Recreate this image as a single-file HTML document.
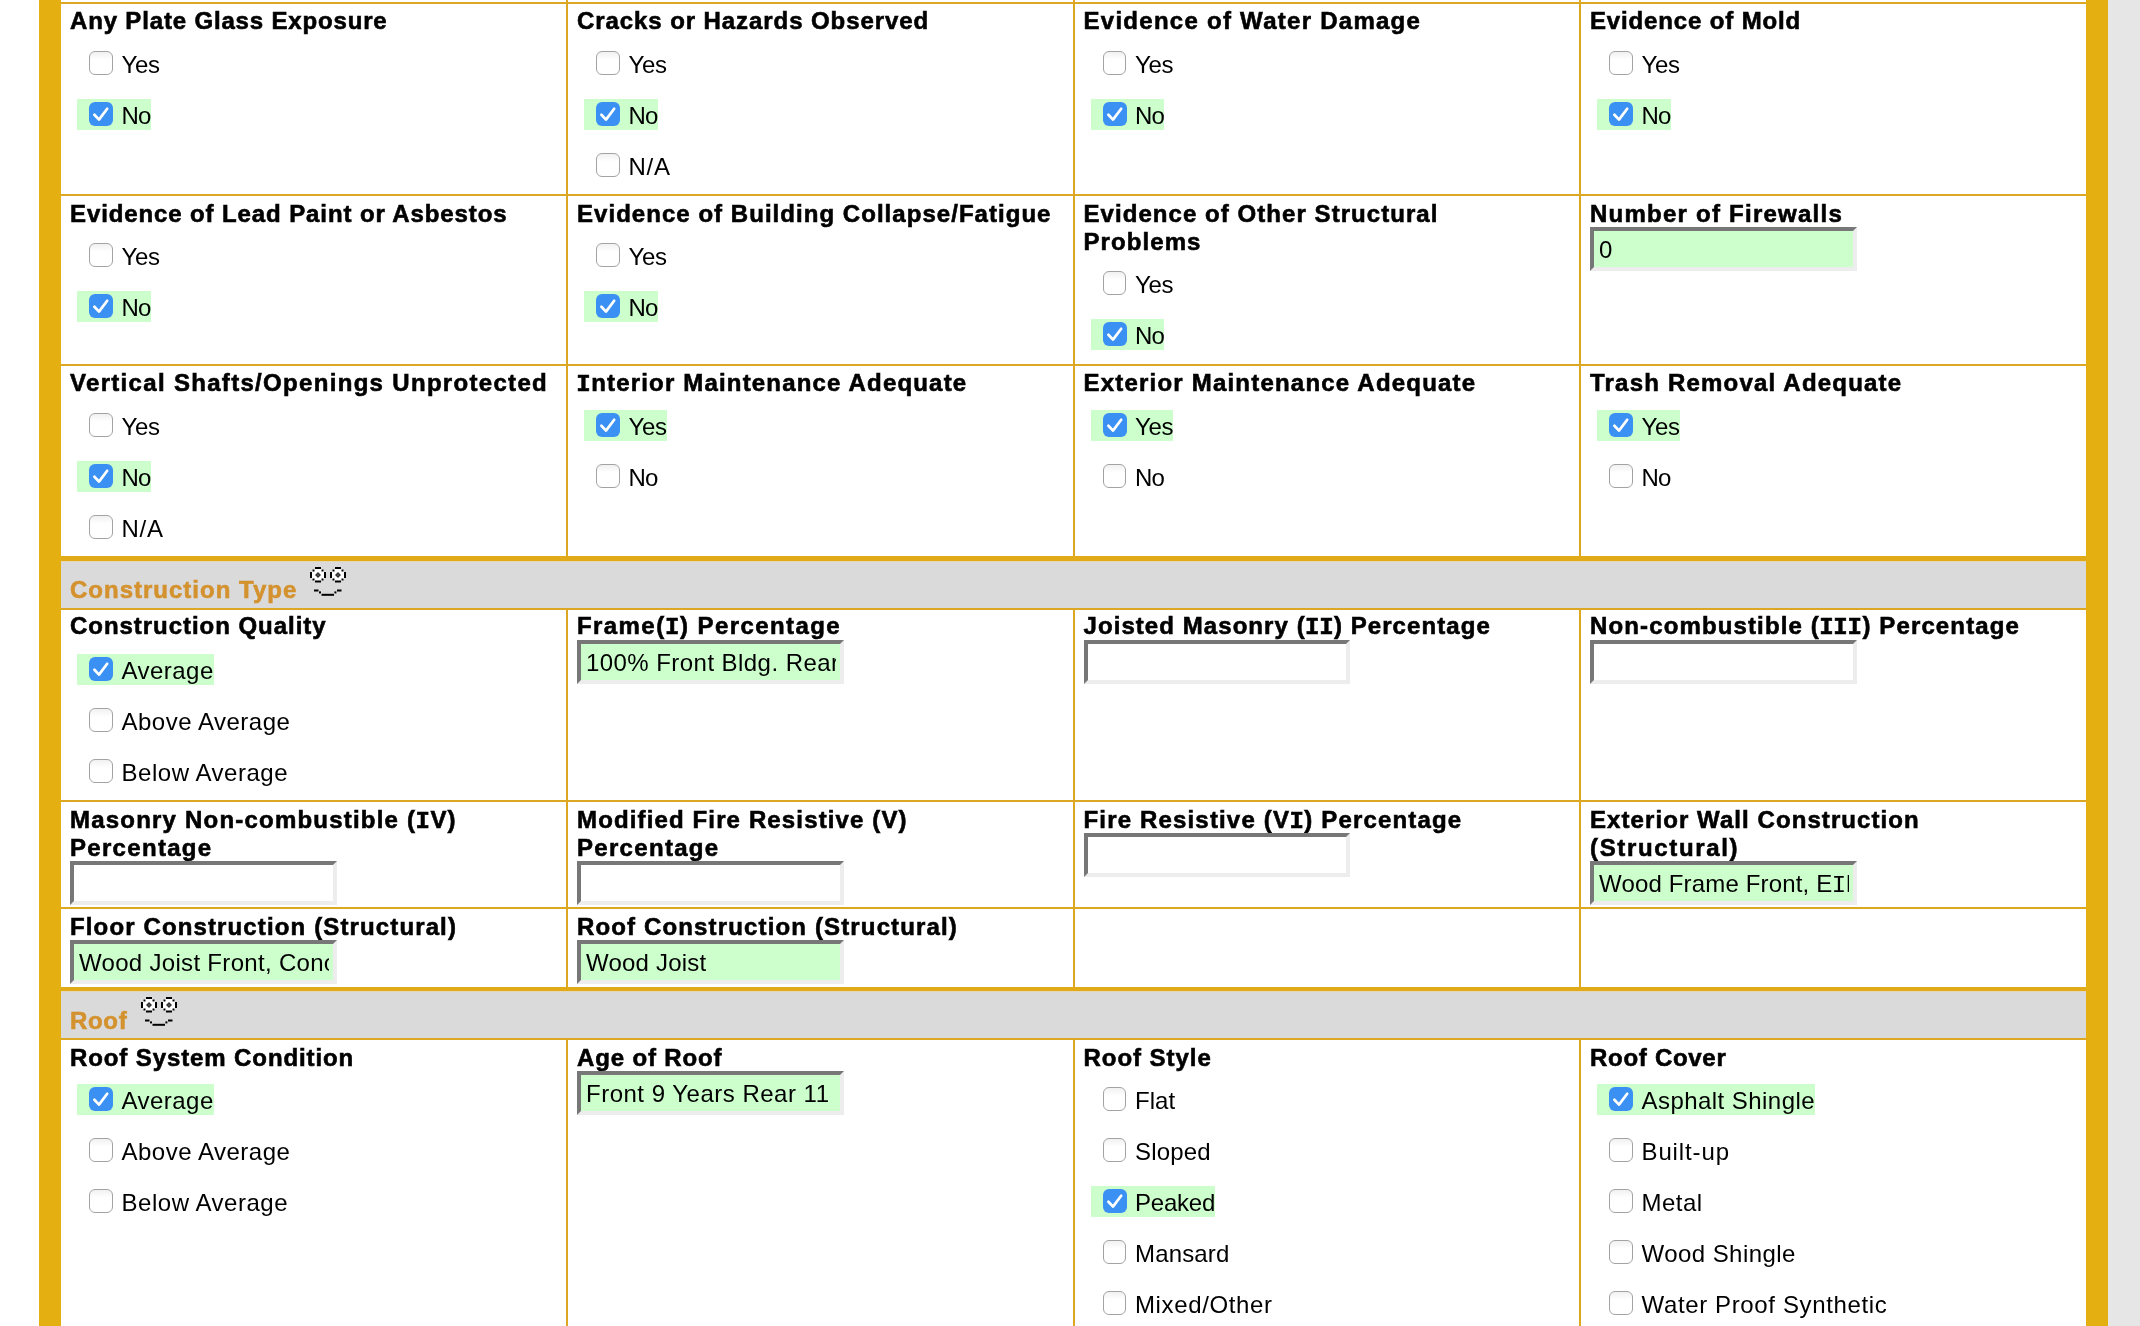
<!DOCTYPE html><html><head><meta charset="utf-8"><title>Inspection Form</title><style>
html,body{margin:0;padding:0}
body{width:2140px;height:1326px;overflow:hidden;position:relative;background:#fff;font-family:"Liberation Sans",sans-serif;color:#000}
.t{position:absolute;white-space:nowrap}
.mi{font-family:"Liberation Mono",monospace;margin:0 -0.7px}
.r{position:absolute}
.opt{position:absolute;height:31px;line-height:31px;font-size:24px;white-space:nowrap;padding-left:44.5px}
.cb{position:absolute;left:12px;top:2.9px;width:21.6px;height:21.6px;border:1.2px solid #a3a3a3;border-radius:6px;background:linear-gradient(#f1f1f1,#fff 35%)}
.cbc{position:absolute;left:12px;top:2.9px;width:24px;height:24px;border-radius:6px;background:#3b90f4}
.cbc svg{position:absolute;left:0;top:0}
.inp{position:absolute;width:258.6px;height:35.6px;border-style:solid;border-width:4px;border-color:#777 #ededed #ededed #777}
.inpt{position:absolute;width:258.5px;height:43px;overflow:hidden}

</style></head><body><div id="root" style="position:absolute;left:0;top:0;width:2140px;height:1326px;will-change:transform">
<div class="r" style="left:2108px;top:0;width:32px;height:1326px;background:#e6e6e6"></div>
<div class="r" style="left:39px;top:0;width:22px;height:1326px;background:#e4af10"></div>
<div class="r" style="left:2086px;top:0;width:22px;height:1326px;background:#e4af10"></div>
<div class="r" style="left:61px;top:562px;width:2025px;height:46px;background:#dadada"></div>
<div class="r" style="left:61px;top:992px;width:2025px;height:46px;background:#dadada"></div>
<div class="r" style="left:61px;top:2px;width:2025px;height:2px;background:#dca824"></div>
<div class="r" style="left:61px;top:194px;width:2025px;height:2px;background:#dca824"></div>
<div class="r" style="left:61px;top:364px;width:2025px;height:2px;background:#dca824"></div>
<div class="r" style="left:61px;top:608px;width:2025px;height:2px;background:#dca824"></div>
<div class="r" style="left:61px;top:800px;width:2025px;height:2px;background:#dca824"></div>
<div class="r" style="left:61px;top:907px;width:2025px;height:2px;background:#dca824"></div>
<div class="r" style="left:61px;top:1038px;width:2025px;height:2px;background:#dca824"></div>
<div class="r" style="left:61px;top:556px;width:2025px;height:5px;background:#e0aa18"></div>
<div class="r" style="left:61px;top:561px;width:2025px;height:1px;background:#e6d8b6"></div>
<div class="r" style="left:61px;top:987px;width:2025px;height:4px;background:#e0aa18"></div>
<div class="r" style="left:61px;top:991px;width:2025px;height:1px;background:#e6d8b6"></div>
<div class="r" style="left:566px;top:0px;width:2px;height:556px;background:#dca824"></div>
<div class="r" style="left:566px;top:608px;width:2px;height:379px;background:#dca824"></div>
<div class="r" style="left:566px;top:1038px;width:2px;height:288px;background:#dca824"></div>
<div class="r" style="left:1072.5px;top:0px;width:2px;height:556px;background:#dca824"></div>
<div class="r" style="left:1072.5px;top:608px;width:2px;height:379px;background:#dca824"></div>
<div class="r" style="left:1072.5px;top:1038px;width:2px;height:288px;background:#dca824"></div>
<div class="r" style="left:1579px;top:0px;width:2px;height:556px;background:#dca824"></div>
<div class="r" style="left:1579px;top:608px;width:2px;height:379px;background:#dca824"></div>
<div class="r" style="left:1579px;top:1038px;width:2px;height:288px;background:#dca824"></div>
<div class="t" id="a0l0" style="left:70px;top:8.98px;font-size:24px;line-height:24px;font-weight:bold;color:#000;letter-spacing:0.835px;-webkit-text-stroke:0.6px #000">Any Plate Glass Exposure</div>
<div class="opt" style="left:77px;top:48.10px;"><div class="cb"></div><span id="a0o0" style="letter-spacing:-0.346px;position:relative;top:0.8px">Yes</span></div>
<div class="opt" style="left:77px;top:99.10px;background:#ccffcc;"><div class="cbc"><svg width="24" height="24" viewBox="0 0 24 24"><path d="M5.4 12.8 L10 17.6 L18.2 6.8" fill="none" stroke="#fff" stroke-width="2.7" stroke-linecap="round" stroke-linejoin="round"/></svg></div><span id="a0o1" style="letter-spacing:-0.714px;position:relative;top:0.8px">No</span></div>
<div class="t" id="a1l0" style="left:577px;top:8.98px;font-size:24px;line-height:24px;font-weight:bold;color:#000;letter-spacing:0.920px;-webkit-text-stroke:0.6px #000">Cracks or Hazards Observed</div>
<div class="opt" style="left:584px;top:48.10px;"><div class="cb"></div><span id="a1o0" style="letter-spacing:-0.346px;position:relative;top:0.8px">Yes</span></div>
<div class="opt" style="left:584px;top:99.10px;background:#ccffcc;"><div class="cbc"><svg width="24" height="24" viewBox="0 0 24 24"><path d="M5.4 12.8 L10 17.6 L18.2 6.8" fill="none" stroke="#fff" stroke-width="2.7" stroke-linecap="round" stroke-linejoin="round"/></svg></div><span id="a1o1" style="letter-spacing:-0.714px;position:relative;top:0.8px">No</span></div>
<div class="opt" style="left:584px;top:150.10px;"><div class="cb"></div><span id="a1o2" style="letter-spacing:0.700px;position:relative;top:0.8px">N/A</span></div>
<div class="t" id="a2l0" style="left:1083.5px;top:8.98px;font-size:24px;line-height:24px;font-weight:bold;color:#000;letter-spacing:1.269px;-webkit-text-stroke:0.6px #000">Evidence of Water Damage</div>
<div class="opt" style="left:1090.5px;top:48.10px;"><div class="cb"></div><span id="a2o0" style="letter-spacing:-0.346px;position:relative;top:0.8px">Yes</span></div>
<div class="opt" style="left:1090.5px;top:99.10px;background:#ccffcc;"><div class="cbc"><svg width="24" height="24" viewBox="0 0 24 24"><path d="M5.4 12.8 L10 17.6 L18.2 6.8" fill="none" stroke="#fff" stroke-width="2.7" stroke-linecap="round" stroke-linejoin="round"/></svg></div><span id="a2o1" style="letter-spacing:-0.714px;position:relative;top:0.8px">No</span></div>
<div class="t" id="a3l0" style="left:1590px;top:8.98px;font-size:24px;line-height:24px;font-weight:bold;color:#000;letter-spacing:0.855px;-webkit-text-stroke:0.6px #000">Evidence of Mold</div>
<div class="opt" style="left:1597px;top:48.10px;"><div class="cb"></div><span id="a3o0" style="letter-spacing:-0.346px;position:relative;top:0.8px">Yes</span></div>
<div class="opt" style="left:1597px;top:99.10px;background:#ccffcc;"><div class="cbc"><svg width="24" height="24" viewBox="0 0 24 24"><path d="M5.4 12.8 L10 17.6 L18.2 6.8" fill="none" stroke="#fff" stroke-width="2.7" stroke-linecap="round" stroke-linejoin="round"/></svg></div><span id="a3o1" style="letter-spacing:-0.714px;position:relative;top:0.8px">No</span></div>
<div class="t" id="b0l0" style="left:70px;top:201.98px;font-size:24px;line-height:24px;font-weight:bold;color:#000;letter-spacing:0.891px;-webkit-text-stroke:0.6px #000">Evidence of Lead Paint or Asbestos</div>
<div class="opt" style="left:77px;top:240.10px;"><div class="cb"></div><span id="b0o0" style="letter-spacing:-0.346px;position:relative;top:0.8px">Yes</span></div>
<div class="opt" style="left:77px;top:291.10px;background:#ccffcc;"><div class="cbc"><svg width="24" height="24" viewBox="0 0 24 24"><path d="M5.4 12.8 L10 17.6 L18.2 6.8" fill="none" stroke="#fff" stroke-width="2.7" stroke-linecap="round" stroke-linejoin="round"/></svg></div><span id="b0o1" style="letter-spacing:-0.714px;position:relative;top:0.8px">No</span></div>
<div class="t" id="b1l0" style="left:577px;top:201.98px;font-size:24px;line-height:24px;font-weight:bold;color:#000;letter-spacing:1.039px;-webkit-text-stroke:0.6px #000">Evidence of Building Collapse/Fatigue</div>
<div class="opt" style="left:584px;top:240.10px;"><div class="cb"></div><span id="b1o0" style="letter-spacing:-0.346px;position:relative;top:0.8px">Yes</span></div>
<div class="opt" style="left:584px;top:291.10px;background:#ccffcc;"><div class="cbc"><svg width="24" height="24" viewBox="0 0 24 24"><path d="M5.4 12.8 L10 17.6 L18.2 6.8" fill="none" stroke="#fff" stroke-width="2.7" stroke-linecap="round" stroke-linejoin="round"/></svg></div><span id="b1o1" style="letter-spacing:-0.714px;position:relative;top:0.8px">No</span></div>
<div class="t" id="b2l0" style="left:1083.5px;top:201.98px;font-size:24px;line-height:24px;font-weight:bold;color:#000;letter-spacing:1.057px;-webkit-text-stroke:0.6px #000">Evidence of Other Structural</div>
<div class="t" id="b2l1" style="left:1083.5px;top:229.98px;font-size:24px;line-height:24px;font-weight:bold;color:#000;letter-spacing:1.078px;-webkit-text-stroke:0.6px #000">Problems</div>
<div class="opt" style="left:1090.5px;top:268.10px;"><div class="cb"></div><span id="b2o0" style="letter-spacing:-0.346px;position:relative;top:0.8px">Yes</span></div>
<div class="opt" style="left:1090.5px;top:319.10px;background:#ccffcc;"><div class="cbc"><svg width="24" height="24" viewBox="0 0 24 24"><path d="M5.4 12.8 L10 17.6 L18.2 6.8" fill="none" stroke="#fff" stroke-width="2.7" stroke-linecap="round" stroke-linejoin="round"/></svg></div><span id="b2o1" style="letter-spacing:-0.714px;position:relative;top:0.8px">No</span></div>
<div class="t" id="b3l0" style="left:1590px;top:201.98px;font-size:24px;line-height:24px;font-weight:bold;color:#000;letter-spacing:1.244px;-webkit-text-stroke:0.6px #000">Number of Firewalls</div>
<div class="inp" style="left:1590px;top:227.40px;background:#ccffcc"></div>
<div class="inpt" style="left:1590px;top:227.40px;"><div class="t" id="b3i" style="left:9px;top:10.68px;font-size:24px;line-height:24px;letter-spacing:0.450px">0</div></div>
<div class="t" id="c0l0" style="left:70px;top:370.98px;font-size:24px;line-height:24px;font-weight:bold;color:#000;letter-spacing:1.314px;-webkit-text-stroke:0.6px #000">Vertical Shafts/Openings Unprotected</div>
<div class="opt" style="left:77px;top:410.10px;"><div class="cb"></div><span id="c0o0" style="letter-spacing:-0.346px;position:relative;top:0.8px">Yes</span></div>
<div class="opt" style="left:77px;top:461.10px;background:#ccffcc;"><div class="cbc"><svg width="24" height="24" viewBox="0 0 24 24"><path d="M5.4 12.8 L10 17.6 L18.2 6.8" fill="none" stroke="#fff" stroke-width="2.7" stroke-linecap="round" stroke-linejoin="round"/></svg></div><span id="c0o1" style="letter-spacing:-0.714px;position:relative;top:0.8px">No</span></div>
<div class="opt" style="left:77px;top:512.10px;"><div class="cb"></div><span id="c0o2" style="letter-spacing:0.700px;position:relative;top:0.8px">N/A</span></div>
<div class="t" id="c1l0" style="left:577px;top:370.98px;font-size:24px;line-height:24px;font-weight:bold;color:#000;letter-spacing:1.176px;-webkit-text-stroke:0.6px #000"><span class="mi">I</span>nterior Maintenance Adequate</div>
<div class="opt" style="left:584px;top:410.10px;background:#ccffcc;"><div class="cbc"><svg width="24" height="24" viewBox="0 0 24 24"><path d="M5.4 12.8 L10 17.6 L18.2 6.8" fill="none" stroke="#fff" stroke-width="2.7" stroke-linecap="round" stroke-linejoin="round"/></svg></div><span id="c1o0" style="letter-spacing:-0.346px;position:relative;top:0.8px">Yes</span></div>
<div class="opt" style="left:584px;top:461.10px;"><div class="cb"></div><span id="c1o1" style="letter-spacing:-0.714px;position:relative;top:0.8px">No</span></div>
<div class="t" id="c2l0" style="left:1083.5px;top:370.98px;font-size:24px;line-height:24px;font-weight:bold;color:#000;letter-spacing:1.207px;-webkit-text-stroke:0.6px #000">Exterior Maintenance Adequate</div>
<div class="opt" style="left:1090.5px;top:410.10px;background:#ccffcc;"><div class="cbc"><svg width="24" height="24" viewBox="0 0 24 24"><path d="M5.4 12.8 L10 17.6 L18.2 6.8" fill="none" stroke="#fff" stroke-width="2.7" stroke-linecap="round" stroke-linejoin="round"/></svg></div><span id="c2o0" style="letter-spacing:-0.346px;position:relative;top:0.8px">Yes</span></div>
<div class="opt" style="left:1090.5px;top:461.10px;"><div class="cb"></div><span id="c2o1" style="letter-spacing:-0.714px;position:relative;top:0.8px">No</span></div>
<div class="t" id="c3l0" style="left:1590px;top:370.98px;font-size:24px;line-height:24px;font-weight:bold;color:#000;letter-spacing:1.202px;-webkit-text-stroke:0.6px #000">Trash Removal Adequate</div>
<div class="opt" style="left:1597px;top:410.10px;background:#ccffcc;"><div class="cbc"><svg width="24" height="24" viewBox="0 0 24 24"><path d="M5.4 12.8 L10 17.6 L18.2 6.8" fill="none" stroke="#fff" stroke-width="2.7" stroke-linecap="round" stroke-linejoin="round"/></svg></div><span id="c3o0" style="letter-spacing:-0.346px;position:relative;top:0.8px">Yes</span></div>
<div class="opt" style="left:1597px;top:461.10px;"><div class="cb"></div><span id="c3o1" style="letter-spacing:-0.714px;position:relative;top:0.8px">No</span></div>
<div class="t" id="h1" style="left:70px;top:577.68px;font-size:24px;line-height:24px;font-weight:bold;color:#d4922f;letter-spacing:1.004px;-webkit-text-stroke:0.6px #d4922f">Construction Type</div>
<div class="r" style="left:309px;top:566px"><svg width="38" height="32" viewBox="0 0 38 32" style="display:block"><polygon points="3,5 5,3 13,3 15,5 15,13 13,14.8 5,14.8 3,13" fill="#fff"/><rect x="6" y="1" width="6" height="2" fill="#000"/><rect x="6" y="14.5" width="6" height="2" fill="#000"/><rect x="1" y="6" width="2" height="6" fill="#000"/><rect x="15" y="6" width="2" height="6" fill="#000"/><rect x="3.5" y="3.5" width="2" height="2" fill="#000"/><rect x="12.5" y="3.5" width="2" height="2" fill="#000"/><rect x="3.5" y="12.5" width="2" height="2" fill="#000"/><rect x="12.5" y="12.5" width="2" height="2" fill="#000"/><rect x="6.5" y="8" width="5" height="2" fill="#333"/><rect x="8" y="6.5" width="2" height="5" fill="#333"/><rect x="7.3" y="7.3" width="3.4" height="3.4" fill="#333"/><rect x="8.3" y="8.3" width="1.4" height="1.4" fill="#666"/><polygon points="23,5 25,3 33,3 35,5 35,13 33,14.8 25,14.8 23,13" fill="#fff"/><rect x="26" y="1" width="6" height="2" fill="#000"/><rect x="26" y="14.5" width="6" height="2" fill="#000"/><rect x="21" y="6" width="2" height="6" fill="#000"/><rect x="35" y="6" width="2" height="6" fill="#000"/><rect x="23.5" y="3.5" width="2" height="2" fill="#000"/><rect x="32.5" y="3.5" width="2" height="2" fill="#000"/><rect x="23.5" y="12.5" width="2" height="2" fill="#000"/><rect x="32.5" y="12.5" width="2" height="2" fill="#000"/><rect x="26.5" y="8" width="5" height="2" fill="#333"/><rect x="28" y="6.5" width="2" height="5" fill="#333"/><rect x="27.3" y="7.3" width="3.4" height="3.4" fill="#333"/><rect x="28.3" y="8.3" width="1.4" height="1.4" fill="#666"/><rect x="5" y="23.5" width="4.5" height="2" fill="#000"/><rect x="10" y="25.4" width="2" height="2" fill="#000"/><rect x="12.5" y="27.8" width="12.5" height="2" fill="#000"/><rect x="25.4" y="25.4" width="2" height="2" fill="#000"/><rect x="28" y="23.5" width="4.5" height="2" fill="#000"/></svg></div>
<div class="t" id="d0l0" style="left:70px;top:613.98px;font-size:24px;line-height:24px;font-weight:bold;color:#000;letter-spacing:0.961px;-webkit-text-stroke:0.6px #000">Construction Quality</div>
<div class="opt" style="left:77px;top:654.10px;background:#ccffcc;"><div class="cbc"><svg width="24" height="24" viewBox="0 0 24 24"><path d="M5.4 12.8 L10 17.6 L18.2 6.8" fill="none" stroke="#fff" stroke-width="2.7" stroke-linecap="round" stroke-linejoin="round"/></svg></div><span id="d0o0" style="letter-spacing:0.472px;position:relative;top:0.8px">Average</span></div>
<div class="opt" style="left:77px;top:705.10px;"><div class="cb"></div><span id="d0o1" style="letter-spacing:0.506px;position:relative;top:0.8px">Above Average</span></div>
<div class="opt" style="left:77px;top:756.10px;"><div class="cb"></div><span id="d0o2" style="letter-spacing:0.536px;position:relative;top:0.8px">Below Average</span></div>
<div class="t" id="d1l0" style="left:577px;top:613.98px;font-size:24px;line-height:24px;font-weight:bold;color:#000;letter-spacing:1.420px;-webkit-text-stroke:0.6px #000">Frame(<span class="mi">I</span>) Percentage</div>
<div class="inp" style="left:577px;top:640.00px;background:#ccffcc"></div>
<div class="inpt" style="left:577px;top:640.00px;"><div class="t" id="d1i" style="left:9px;top:10.68px;font-size:24px;line-height:24px;letter-spacing:0.443px"><span id="d1ip">100% Front Bldg. Rea</span>r</div></div>
<div class="t" id="d2l0" style="left:1083.5px;top:613.98px;font-size:24px;line-height:24px;font-weight:bold;color:#000;letter-spacing:1.068px;-webkit-text-stroke:0.6px #000">Joisted Masonry (<span class="mi">I</span><span class="mi">I</span>) Percentage</div>
<div class="inp" style="left:1083.5px;top:640.00px;background:#fff"></div>
<div class="t" id="d3l0" style="left:1590px;top:613.98px;font-size:24px;line-height:24px;font-weight:bold;color:#000;letter-spacing:1.130px;-webkit-text-stroke:0.6px #000">Non-combustible (<span class="mi">I</span><span class="mi">I</span><span class="mi">I</span>) Percentage</div>
<div class="inp" style="left:1590px;top:640.00px;background:#fff"></div>
<div class="t" id="e0l0" style="left:70px;top:807.98px;font-size:24px;line-height:24px;font-weight:bold;color:#000;letter-spacing:1.205px;-webkit-text-stroke:0.6px #000">Masonry Non-combustible (<span class="mi">I</span>V)</div>
<div class="t" id="e0l1" style="left:70px;top:835.98px;font-size:24px;line-height:24px;font-weight:bold;color:#000;letter-spacing:1.308px;-webkit-text-stroke:0.6px #000">Percentage</div>
<div class="inp" style="left:70px;top:861.00px;background:#fff"></div>
<div class="t" id="e1l0" style="left:577px;top:807.98px;font-size:24px;line-height:24px;font-weight:bold;color:#000;letter-spacing:1.136px;-webkit-text-stroke:0.6px #000">Modified Fire Resistive (V)</div>
<div class="t" id="e1l1" style="left:577px;top:835.98px;font-size:24px;line-height:24px;font-weight:bold;color:#000;letter-spacing:1.308px;-webkit-text-stroke:0.6px #000">Percentage</div>
<div class="inp" style="left:577px;top:861.00px;background:#fff"></div>
<div class="t" id="e2l0" style="left:1083.5px;top:807.98px;font-size:24px;line-height:24px;font-weight:bold;color:#000;letter-spacing:1.165px;-webkit-text-stroke:0.6px #000">Fire Resistive (V<span class="mi">I</span>) Percentage</div>
<div class="inp" style="left:1083.5px;top:833.10px;background:#fff"></div>
<div class="t" id="e3l0" style="left:1590px;top:807.98px;font-size:24px;line-height:24px;font-weight:bold;color:#000;letter-spacing:1.076px;-webkit-text-stroke:0.6px #000">Exterior Wall Construction</div>
<div class="t" id="e3l1" style="left:1590px;top:835.98px;font-size:24px;line-height:24px;font-weight:bold;color:#000;letter-spacing:1.651px;-webkit-text-stroke:0.6px #000">(Structural)</div>
<div class="inp" style="left:1590px;top:861.00px;background:#ccffcc"></div>
<div class="inpt" style="left:1590px;top:861.00px;"><div class="t" id="e3i" style="left:9px;top:10.68px;font-size:24px;line-height:24px;letter-spacing:0.164px"><span id="e3ip">Wood Frame Front, E<span class="mi">I</span></span>FS</div></div>
<div class="t" id="f0l0" style="left:70px;top:914.98px;font-size:24px;line-height:24px;font-weight:bold;color:#000;letter-spacing:1.131px;-webkit-text-stroke:0.6px #000">Floor Construction (Structural)</div>
<div class="inp" style="left:70px;top:940.30px;background:#ccffcc"></div>
<div class="inpt" style="left:70px;top:940.30px;"><div class="t" id="f0i" style="left:9px;top:10.68px;font-size:24px;line-height:24px;letter-spacing:0.310px"><span id="f0ip">Wood Joist Front, Con</span>crete</div></div>
<div class="t" id="f1l0" style="left:577px;top:914.98px;font-size:24px;line-height:24px;font-weight:bold;color:#000;letter-spacing:1.145px;-webkit-text-stroke:0.6px #000">Roof Construction (Structural)</div>
<div class="inp" style="left:577px;top:940.30px;background:#ccffcc"></div>
<div class="inpt" style="left:577px;top:940.30px;"><div class="t" id="f1i" style="left:9px;top:10.68px;font-size:24px;line-height:24px;letter-spacing:0.200px">Wood Joist</div></div>
<div class="t" id="h2" style="left:70px;top:1008.68px;font-size:24px;line-height:24px;font-weight:bold;color:#d4922f;letter-spacing:0.665px;-webkit-text-stroke:0.6px #d4922f">Roof</div>
<div class="r" style="left:140px;top:996px"><svg width="38" height="32" viewBox="0 0 38 32" style="display:block"><polygon points="3,5 5,3 13,3 15,5 15,13 13,14.8 5,14.8 3,13" fill="#fff"/><rect x="6" y="1" width="6" height="2" fill="#000"/><rect x="6" y="14.5" width="6" height="2" fill="#000"/><rect x="1" y="6" width="2" height="6" fill="#000"/><rect x="15" y="6" width="2" height="6" fill="#000"/><rect x="3.5" y="3.5" width="2" height="2" fill="#000"/><rect x="12.5" y="3.5" width="2" height="2" fill="#000"/><rect x="3.5" y="12.5" width="2" height="2" fill="#000"/><rect x="12.5" y="12.5" width="2" height="2" fill="#000"/><rect x="6.5" y="8" width="5" height="2" fill="#333"/><rect x="8" y="6.5" width="2" height="5" fill="#333"/><rect x="7.3" y="7.3" width="3.4" height="3.4" fill="#333"/><rect x="8.3" y="8.3" width="1.4" height="1.4" fill="#666"/><polygon points="23,5 25,3 33,3 35,5 35,13 33,14.8 25,14.8 23,13" fill="#fff"/><rect x="26" y="1" width="6" height="2" fill="#000"/><rect x="26" y="14.5" width="6" height="2" fill="#000"/><rect x="21" y="6" width="2" height="6" fill="#000"/><rect x="35" y="6" width="2" height="6" fill="#000"/><rect x="23.5" y="3.5" width="2" height="2" fill="#000"/><rect x="32.5" y="3.5" width="2" height="2" fill="#000"/><rect x="23.5" y="12.5" width="2" height="2" fill="#000"/><rect x="32.5" y="12.5" width="2" height="2" fill="#000"/><rect x="26.5" y="8" width="5" height="2" fill="#333"/><rect x="28" y="6.5" width="2" height="5" fill="#333"/><rect x="27.3" y="7.3" width="3.4" height="3.4" fill="#333"/><rect x="28.3" y="8.3" width="1.4" height="1.4" fill="#666"/><rect x="5" y="23.5" width="4.5" height="2" fill="#000"/><rect x="10" y="25.4" width="2" height="2" fill="#000"/><rect x="12.5" y="27.8" width="12.5" height="2" fill="#000"/><rect x="25.4" y="25.4" width="2" height="2" fill="#000"/><rect x="28" y="23.5" width="4.5" height="2" fill="#000"/></svg></div>
<div class="t" id="g0l0" style="left:70px;top:1045.98px;font-size:24px;line-height:24px;font-weight:bold;color:#000;letter-spacing:0.895px;-webkit-text-stroke:0.6px #000">Roof System Condition</div>
<div class="opt" style="left:77px;top:1084.10px;background:#ccffcc;"><div class="cbc"><svg width="24" height="24" viewBox="0 0 24 24"><path d="M5.4 12.8 L10 17.6 L18.2 6.8" fill="none" stroke="#fff" stroke-width="2.7" stroke-linecap="round" stroke-linejoin="round"/></svg></div><span id="g0o0" style="letter-spacing:0.472px;position:relative;top:0.8px">Average</span></div>
<div class="opt" style="left:77px;top:1135.10px;"><div class="cb"></div><span id="g0o1" style="letter-spacing:0.506px;position:relative;top:0.8px">Above Average</span></div>
<div class="opt" style="left:77px;top:1186.10px;"><div class="cb"></div><span id="g0o2" style="letter-spacing:0.536px;position:relative;top:0.8px">Below Average</span></div>
<div class="t" id="g1l0" style="left:577px;top:1045.98px;font-size:24px;line-height:24px;font-weight:bold;color:#000;letter-spacing:0.860px;-webkit-text-stroke:0.6px #000">Age of Roof</div>
<div class="inp" style="left:577px;top:1071.30px;background:#ccffcc"></div>
<div class="inpt" style="left:577px;top:1071.30px;"><div class="t" id="g1i" style="left:9px;top:10.68px;font-size:24px;line-height:24px;letter-spacing:0.500px">Front 9 Years Rear 11</div></div>
<div class="t" id="g2l0" style="left:1083.5px;top:1045.98px;font-size:24px;line-height:24px;font-weight:bold;color:#000;letter-spacing:0.956px;-webkit-text-stroke:0.6px #000">Roof Style</div>
<div class="opt" style="left:1090.5px;top:1084.10px;"><div class="cb"></div><span id="g2o0" style="letter-spacing:0.049px;position:relative;top:0.8px">Flat</span></div>
<div class="opt" style="left:1090.5px;top:1135.10px;"><div class="cb"></div><span id="g2o1" style="letter-spacing:0.170px;position:relative;top:0.8px">Sloped</span></div>
<div class="opt" style="left:1090.5px;top:1186.10px;background:#ccffcc;"><div class="cbc"><svg width="24" height="24" viewBox="0 0 24 24"><path d="M5.4 12.8 L10 17.6 L18.2 6.8" fill="none" stroke="#fff" stroke-width="2.7" stroke-linecap="round" stroke-linejoin="round"/></svg></div><span id="g2o2" style="letter-spacing:-0.230px;position:relative;top:0.8px">Peaked</span></div>
<div class="opt" style="left:1090.5px;top:1237.10px;"><div class="cb"></div><span id="g2o3" style="letter-spacing:0.148px;position:relative;top:0.8px">Mansard</span></div>
<div class="opt" style="left:1090.5px;top:1288.10px;"><div class="cb"></div><span id="g2o4" style="letter-spacing:0.630px;position:relative;top:0.8px">Mixed/Other</span></div>
<div class="t" id="g3l0" style="left:1590px;top:1045.98px;font-size:24px;line-height:24px;font-weight:bold;color:#000;letter-spacing:0.715px;-webkit-text-stroke:0.6px #000">Roof Cover</div>
<div class="opt" style="left:1597px;top:1084.10px;background:#ccffcc;"><div class="cbc"><svg width="24" height="24" viewBox="0 0 24 24"><path d="M5.4 12.8 L10 17.6 L18.2 6.8" fill="none" stroke="#fff" stroke-width="2.7" stroke-linecap="round" stroke-linejoin="round"/></svg></div><span id="g3o0" style="letter-spacing:0.450px;position:relative;top:0.8px">Asphalt Shingle</span></div>
<div class="opt" style="left:1597px;top:1135.10px;"><div class="cb"></div><span id="g3o1" style="letter-spacing:0.879px;position:relative;top:0.8px">Built-up</span></div>
<div class="opt" style="left:1597px;top:1186.10px;"><div class="cb"></div><span id="g3o2" style="letter-spacing:0.475px;position:relative;top:0.8px">Metal</span></div>
<div class="opt" style="left:1597px;top:1237.10px;"><div class="cb"></div><span id="g3o3" style="letter-spacing:0.443px;position:relative;top:0.8px">Wood Shingle</span></div>
<div class="opt" style="left:1597px;top:1288.10px;"><div class="cb"></div><span id="g3o4" style="letter-spacing:0.635px;position:relative;top:0.8px">Water Proof Synthetic</span></div>
</div></body></html>
